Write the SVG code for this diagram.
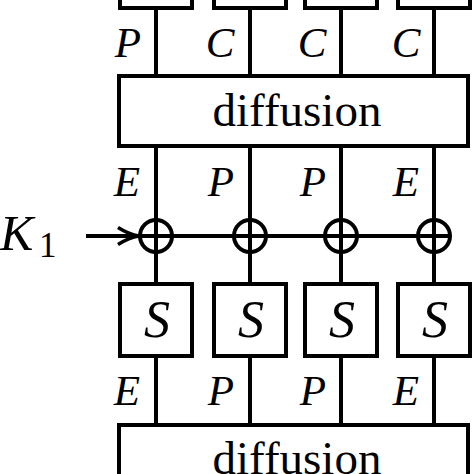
<svg xmlns="http://www.w3.org/2000/svg" width="474" height="474" viewBox="0 0 474 474">
<style>
.box{fill:#fff;stroke:#000;stroke-width:4}
.ln{stroke:#000;stroke-width:4;fill:none}
.t{font-family:"Liberation Serif","DejaVu Serif","Times New Roman",Times,serif}
.lbl{font-style:italic;font-size:43px;text-anchor:middle}
.s{font-style:italic;font-size:52px;text-anchor:middle}
.dif{font-size:47px;text-anchor:middle}
</style>
<rect width="474" height="474" fill="#fff"/>
<g id="connectors">
<path class="ln" d="M156,8V76M250,8V76M341,8V76M434,8V76"/>
<path class="ln" d="M156,146V284M250,146V284M341,146V284M434,146V284"/>
<path class="ln" d="M156,356V425M250,356V425M341,356V425M434,356V425"/>
<path class="ln" d="M86,236H450"/>
<path d="M118,227.5Q129,234.5 139,236Q129,237.5 118,244.5" fill="none" stroke="#000" stroke-width="3.5"/>
</g>
<g id="top-boxes">
<rect class="box" x="120" y="-20" width="72" height="28"/>
<rect class="box" x="214" y="-20" width="72" height="28"/>
<rect class="box" x="305" y="-20" width="72" height="28"/>
<rect class="box" x="398" y="-20" width="72" height="28"/>
</g>
<g id="labels-top">
<text class="t lbl" x="128" y="57">P</text>
<text class="t lbl" x="220" y="57">C</text>
<text class="t lbl" x="312" y="57">C</text>
<text class="t lbl" x="406" y="57">C</text>
</g>
<g id="diffusion1">
<rect class="box" x="119" y="76" width="349" height="70"/>
<text class="t dif" x="297" y="126">diffusion</text>
</g>
<g id="labels-mid">
<text class="t lbl" x="127" y="196">E</text>
<text class="t lbl" x="221" y="196">P</text>
<text class="t lbl" x="313" y="196">P</text>
<text class="t lbl" x="406" y="196">E</text>
</g>
<g id="key">
<text class="t" font-style="italic" font-size="50" x="0" y="250">K</text>
<text class="t" font-size="35" x="39" y="257">1</text>
</g>
<g id="xors">
<circle class="ln" cx="156" cy="236" r="16"/>
<circle class="ln" cx="250" cy="236" r="16"/>
<circle class="ln" cx="341" cy="236" r="16"/>
<circle class="ln" cx="434" cy="236" r="16"/>
</g>
<g id="sboxes">
<rect class="box" x="120" y="284" width="72" height="72"/>
<rect class="box" x="214" y="284" width="72" height="72"/>
<rect class="box" x="305" y="284" width="72" height="72"/>
<rect class="box" x="398" y="284" width="72" height="72"/>
<text class="t s" x="157" y="337">S</text>
<text class="t s" x="251" y="337">S</text>
<text class="t s" x="342" y="337">S</text>
<text class="t s" x="435" y="337">S</text>
</g>
<g id="labels-bottom">
<text class="t lbl" x="127" y="405">E</text>
<text class="t lbl" x="221" y="405">P</text>
<text class="t lbl" x="313" y="405">P</text>
<text class="t lbl" x="406" y="405">E</text>
</g>
<g id="diffusion2">
<rect class="box" x="119" y="425" width="349" height="70"/>
<text class="t dif" x="297" y="474">diffusion</text>
</g>
</svg>
